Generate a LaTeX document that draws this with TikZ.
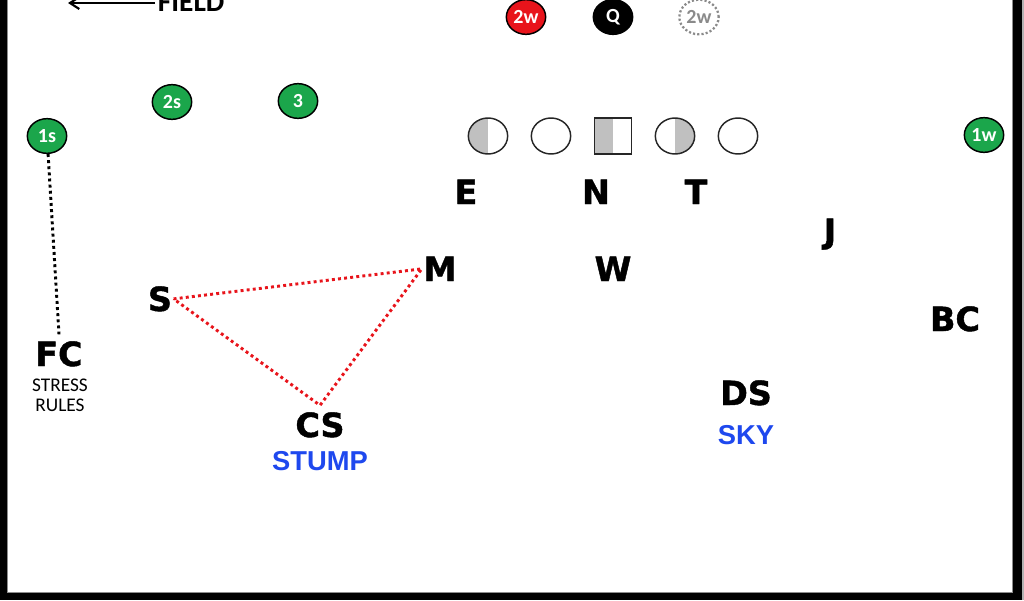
\documentclass[tikz,border=0pt]{standalone}
\usepackage{fontspec}
\setmainfont{Carlito}
\newfontfamily\heavyfont{DejaVu Sans}[BoldFeatures={FakeBold=1.3}]
\newfontfamily\callfont{Liberation Sans}
\usetikzlibrary{arrows.meta, shapes.geometric}
\definecolor{fieldgreen}{HTML}{1BA64B}
\definecolor{dline}{HTML}{E8141B}
\definecolor{callblue}{HTML}{1E48EE}
\definecolor{lineshade}{HTML}{C0C0C0}
\definecolor{ghost}{HTML}{8A8A8A}

\begin{document}
\begin{tikzpicture}[
  x=0.75pt, y=-0.75pt,
  player/.style={ellipse, draw=black, line width=1.1pt, fill=fieldgreen,
                 minimum width=29.5pt, minimum height=26pt, inner sep=0pt,
                 text=white, font=\bfseries\fontsize{15}{15}\selectfont},
  ghostplayer/.style={player, fill=white, draw=ghost, text=ghost,
                 line width=1.7pt, dash pattern=on 1.6pt off 1.6pt},
  oline/.style={ellipse, draw=black!85, line width=1.1pt, fill=white,
                minimum width=29.5pt, minimum height=27pt, inner sep=0pt},
  center/.style={oline, rectangle, minimum width=27.5pt, minimum height=27pt},
  leftshade/.style={path picture={\fill[lineshade] (path picture bounding box.south west)
                    rectangle (path picture bounding box.north);}},
  rightshade/.style={path picture={\fill[lineshade] (path picture bounding box.south)
                     rectangle (path picture bounding box.north east);}},
  defender/.style={anchor=base, inner xsep=1pt, inner ysep=5pt,
                   font=\heavyfont\bfseries\fontsize{25}{25}\selectfont},
  call/.style={anchor=base, inner sep=1pt, text=callblue,
               font=\callfont\bfseries\fontsize{20.5}{20.5}\selectfont},
  rule/.style={anchor=base, inner sep=1pt, align=center,
               font=\fontsize{14.5}{15}\selectfont},
  fieldtag/.style={anchor=base west, inner sep=2pt,
                   font=\bfseries\fontsize{22}{22}\selectfont},
  dirarr/.style={-{Straight Barb[length=7pt, width=9pt]}, line width=1.6pt},
  redtri/.style={draw=dline, line width=2.2pt, dash pattern=on 2.2pt off 2.4pt},
  blackdots/.style={draw=black, line width=2.2pt, dash pattern=on 2.2pt off 2.4pt}
]
  \useasboundingbox (0,0) rectangle (1024,600);
  \clip (0,0) rectangle (1024,600);

  % Frame
  \fill[black] (0,-10) rectangle (7,600);
  \fill[black] (1013,-10) rectangle (1022,600);
  \fill[black] (0,593) rectangle (1024,600);
  \fill[black!30] (1022,-10) rectangle (1024,600);
  \draw[black!45, line width=0.6pt] (7.5,-10) |- (1012.5,592.5) -- (1012.5,-10);

  % Direction
  \node[fieldtag] (field) at (155,11.5) {FIELD};
  \coordinate (fieldtip) at (68,3);
  \draw[dirarr] (field.west |- fieldtip) -- (fieldtip);

  % Backfield
  \node[player, fill=dline] (twowR) at (526,17) {2w};
  \node[player, fill=black] (qb) at (613,17) {Q};
  \node[ghostplayer] (twowG) at (699,17) {2w};

  % Receivers
  \node[player] (ones) at (47,136) {1s};
  \node[player] (twos) at (172,102) {2s};
  \node[player] (three) at (298,101) {3};
  \node[player] (onew) at (984,135) {1w};

  % Offensive line
  \node[oline, leftshade] (lt) at (488,136) {};
  \node[oline] (lg) at (551,136) {};
  \node[center, leftshade] (ctr) at (613,136) {};
  \node[oline, rightshade] (rg) at (675,136) {};
  \node[oline] (rt) at (738,136) {};

  % Front
  \node[defender] (dE) at (466,204) {E};
  \node[defender] (dN) at (596,204) {N};
  \node[defender] (dT) at (696,204) {T};
  \node[defender] (dJ) at (830,243) {J};
  \node[defender] (dM) at (440,281) {M};
  \node[defender] (dW) at (613,281) {W};

  % Secondary
  \node[defender] (dS) at (160,311) {S};
  \node[defender] (dFC) at (59,366) {FC};
  \node[rule] (stress) at (60,411) {STRESS\\RULES};
  \node[defender] (dCS) at (320,437) {CS};
  \node[call] (stump) at (320,470) {STUMP};
  \node[defender] (dBC) at (955,331) {BC};
  \node[defender] (dDS) at (746,405) {DS};
  \node[call] (sky) at (746,444) {SKY};

  % Reads
  \draw[blackdots] (ones) -- (dFC.north);
  \draw[redtri] (dS.east) -- (dM.west) -- (dCS.north) -- cycle;
\end{tikzpicture}
\end{document}
